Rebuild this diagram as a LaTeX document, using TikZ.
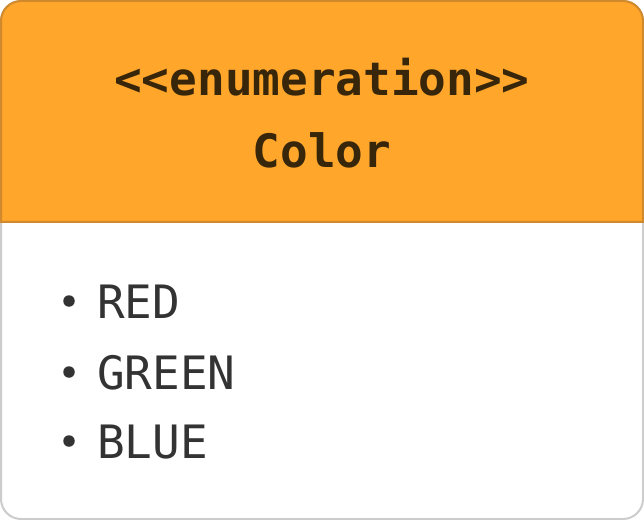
\documentclass[tikz,border=0pt]{standalone}
\usepackage{fontspec}
\newfontfamily\monofont{DejaVu Sans Mono}
\definecolor{hdrfill}{HTML}{FFA62B}
\definecolor{hdrline}{HTML}{D0892C}
\definecolor{hdrtext}{HTML}{38260A}
\definecolor{bodyline}{HTML}{CCCCCC}
\definecolor{bodytext}{HTML}{333333}
\tikzset{
  titletext/.style={anchor=base, inner sep=0pt, text=hdrtext, font=\monofont\bfseries\fontsize{46bp}{50bp}\selectfont},
  itemtext/.style={anchor=base west, inner sep=0pt, text=bodytext, font=\monofont\fontsize{46bp}{50bp}\selectfont},
  bulletdot/.style={circle, fill=bodytext, inner sep=0pt, minimum size=11.5bp},
}
\begin{document}
\begin{tikzpicture}[x=1bp,y=-1bp]
\useasboundingbox (0,0) rectangle (644,520);
\draw[draw=bodyline, line width=2bp, fill=white, rounded corners=20bp] (1,1) rectangle (643,519);
\draw[draw=hdrline, line width=2bp, fill=hdrfill] (1,222) [rounded corners=20bp] -- (1,1) -- (643,1) [sharp corners] -- (643,222) -- cycle;
\node[titletext] (stereo) at (322,96) {<<enumeration>>};
\node[titletext] (name) at (322,168) {Color};
\node[bulletdot] (b1) at (69,301) {};
\node[bulletdot] (b2) at (69,372) {};
\node[bulletdot] (b3) at (69,441) {};
\node[itemtext] (i1) at (97,318) {RED};
\node[itemtext] (i2) at (97,389) {GREEN};
\node[itemtext] (i3) at (97,458) {BLUE};
\end{tikzpicture}
\end{document}
